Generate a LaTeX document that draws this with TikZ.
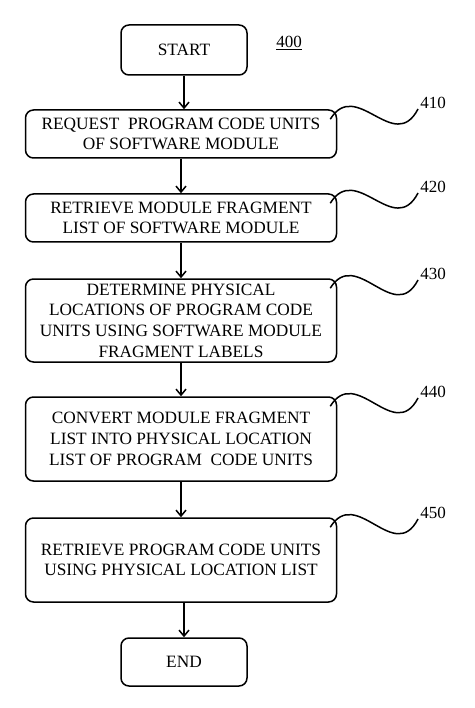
\documentclass[tikz,border=0pt]{standalone}
\usepackage{fontspec}
\setmainfont{Liberation Serif}
\usetikzlibrary{arrows.meta}

\tikzset{
    stepbox/.style={draw, rounded corners=8pt, line width=1.5pt, align=center,
        minimum width=311pt, inner sep=0pt, font=\fontsize{17.3}{20.7}\selectfont},
    termbox/.style={stepbox, minimum width=126pt},
    reflabel/.style={inner sep=1pt, font=\fontsize{17}{20}\selectfont},
    squiggle/.style={line width=1.5pt},
    >={Straight Barb[length=6pt,width=10pt]}
}

\begin{document}
\begin{tikzpicture}[x=1pt, y=-1pt]
    \useasboundingbox[fill=white] (0,0) rectangle (474,708);
    % boxes
    \node[termbox, minimum height=50pt] (start) at (184,50) {START};
    \node[stepbox, minimum height=48pt] (req) at (181,134) {REQUEST\ \ PROGRAM CODE UNITS\\OF SOFTWARE MODULE};
    \node[stepbox, minimum height=48pt] (frag) at (181,218) {RETRIEVE MODULE FRAGMENT\\LIST OF SOFTWARE MODULE};
    \node[stepbox, minimum height=83pt] (locate) at (181,320.5) {DETERMINE PHYSICAL\\LOCATIONS OF PROGRAM CODE\\UNITS USING SOFTWARE MODULE\\FRAGMENT LABELS};
    \node[stepbox, minimum height=84pt] (convert) at (181,439) {CONVERT MODULE FRAGMENT\\LIST INTO PHYSICAL LOCATION\\LIST OF PROGRAM\ \ CODE UNITS};
    \node[stepbox, minimum height=84pt] (fetch) at (181,560) {RETRIEVE PROGRAM CODE UNITS\\USING PHYSICAL LOCATION LIST};
    \node[termbox, minimum height=48pt] (end) at (184,662) {END};
    % reference numbers
    \node[reflabel] (l400) at (289,43) {\underline{400}};
    \node[reflabel] (l410) at (433,103) {410};
    \node[reflabel] (l420) at (433,187) {420};
    \node[reflabel] (l430) at (433,274) {430};
    \node[reflabel] (l440) at (433,392) {440};
    \node[reflabel] (l450) at (433,513) {450};
    % arrows
    \draw[->, line width=1.5pt] (start) -- (start |- req.north);
    \draw[->, line width=1.5pt] (req) -- (frag);
    \draw[->, line width=1.5pt] (frag) -- (locate);
    \draw[->, line width=1.5pt] (locate) -- (convert);
    \draw[->, line width=1.5pt] (convert) -- (fetch);
    \draw[->, line width=1.5pt] (end |- fetch.south) -- (end);
    % squiggles
    \foreach \stepnode/\lab in {req/l410, frag/l420, locate/l430, convert/l440, fetch/l450}
        \draw[squiggle] ([shift={(-7,10)}]\stepnode.north east) .. controls +(26,-42) and +(-24,46) .. ([shift={(-1,-1)}]\lab.south west);
\end{tikzpicture}
\end{document}
